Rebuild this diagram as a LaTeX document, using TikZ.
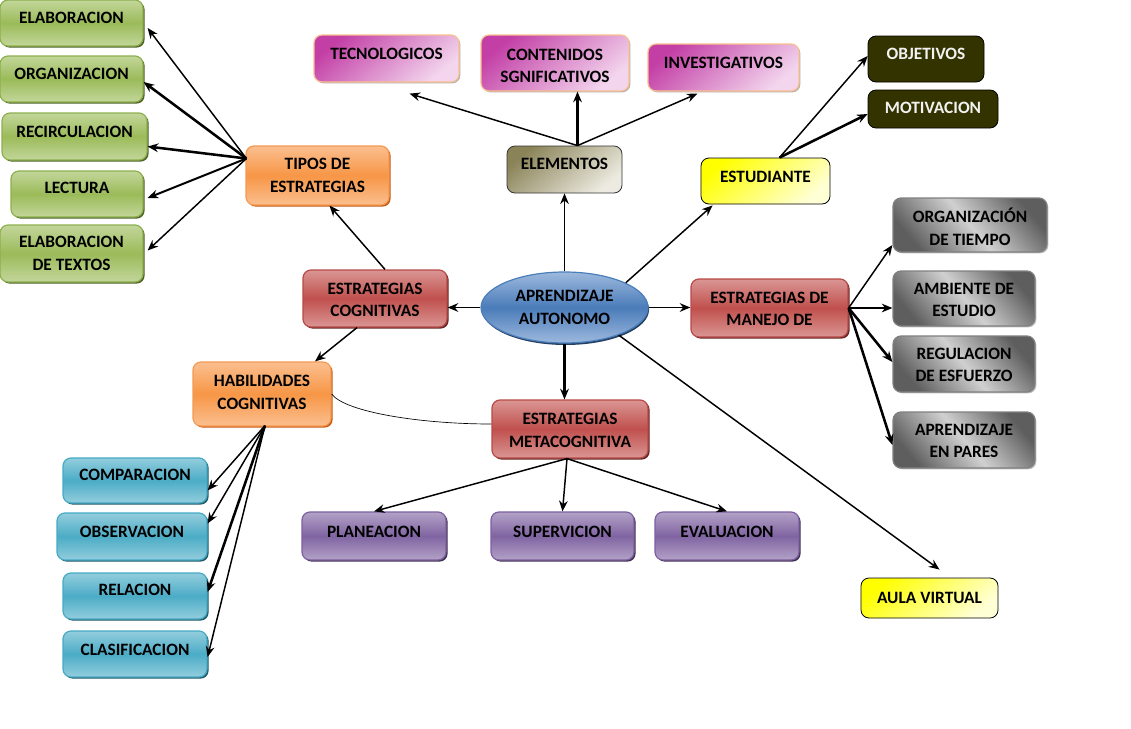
\documentclass[tikz,border=0pt]{standalone}
\usepackage{fontspec}
\setmainfont{Carlito}
\usetikzlibrary{arrows.meta,shapes.geometric,fit,calc,shadows}
\definecolor{grnM}{HTML}{9BBB59}\definecolor{grnL}{HTML}{C3D69B}\definecolor{grnB}{HTML}{8DB04E}\definecolor{grnS}{HTML}{4F6228}
\definecolor{orM}{HTML}{F79646}\definecolor{orL}{HTML}{FBBF8F}\definecolor{orB}{HTML}{F59A52}\definecolor{orS}{HTML}{C55A11}
\definecolor{rdM}{HTML}{C0504D}\definecolor{rdL}{HTML}{DA9694}\definecolor{rdB}{HTML}{B84A47}\definecolor{rdS}{HTML}{632523}
\definecolor{blM}{HTML}{4A7CBA}\definecolor{blL}{HTML}{9DB9DD}\definecolor{blB}{HTML}{4A7EBB}\definecolor{blS}{HTML}{254061}
\definecolor{cyM}{HTML}{4BACC6}\definecolor{cyL}{HTML}{93CDDD}\definecolor{cyB}{HTML}{46AAC5}\definecolor{cyS}{HTML}{215968}
\definecolor{puM}{HTML}{8064A2}\definecolor{puL}{HTML}{B3A2C7}\definecolor{puB}{HTML}{7D60A0}\definecolor{puS}{HTML}{3F3151}
\definecolor{pkD}{HTML}{C33FA6}\definecolor{pkL}{HTML}{F3D6EE}\definecolor{pkB}{HTML}{FAC090}
\definecolor{olD}{HTML}{8A8358}\definecolor{olL}{HTML}{EDEBE1}
\definecolor{yeD}{HTML}{FFFF00}\definecolor{yeL}{HTML}{FFFFD6}
\definecolor{dkO}{HTML}{333300}
\definecolor{gyD}{HTML}{5E5E5E}\definecolor{gyL}{HTML}{D0D0D0}\definecolor{gyB}{HTML}{808080}
\tikzset{
  x=0.75pt, y=-0.75pt,
  base/.style={rectangle, rounded corners=6pt, inner sep=0pt, line width=0.9pt},
  greenbox/.style={base, draw=grnB, top color=grnL, bottom color=grnL, middle color=grnM,
     drop shadow={shadow xshift=1.2pt, shadow yshift=-1.2pt, fill=grnS, opacity=1}},
  orangebox/.style={base, draw=orB, top color=orL, bottom color=orL, middle color=orM,
     drop shadow={shadow xshift=1.2pt, shadow yshift=-1.2pt, fill=orS, opacity=1}},
  redbox/.style={base, draw=rdB, top color=rdL, bottom color=rdL, middle color=rdM,
     drop shadow={shadow xshift=1.2pt, shadow yshift=-1.2pt, fill=rdS, opacity=1}},
  cyanbox/.style={base, draw=cyB, top color=cyL, bottom color=cyL, middle color=cyM,
     drop shadow={shadow xshift=1.2pt, shadow yshift=-1.2pt, fill=cyS, opacity=1}},
  purplebox/.style={base, draw=puB, top color=puL, bottom color=puL, middle color=puM,
     drop shadow={shadow xshift=1.2pt, shadow yshift=-1.2pt, fill=puS, opacity=1}},
  pinkbox/.style={base, draw=pkB, top color=pkD, bottom color=pkL, shading angle=40,
     drop shadow={shadow xshift=1pt, shadow yshift=-1pt, fill=gray!60, opacity=1}},
  olivebox/.style={base, draw=black!80, line width=0.6pt, top color=olD, bottom color=olL, shading angle=40},
  yellowbox/.style={base, draw=black, line width=0.6pt, top color=yeD, bottom color=yeL, shading angle=40},
  darkbox/.style={base, draw=black, line width=0.6pt, fill=dkO},
  graybox/.style={base, draw=gyB, top color=gyD, bottom color=gyD, middle color=gyL, shading angle=-50,
     drop shadow={shadow xshift=1pt, shadow yshift=-1pt, fill=gray!50, opacity=1}},
  ellbox/.style={ellipse, inner sep=0pt, draw=blB, line width=0.9pt, top color=blL, bottom color=blL, middle color=blM,
     minimum width=125.25pt, minimum height=53.25pt,
     drop shadow={shadow xshift=0.8pt, shadow yshift=-1.5pt, fill=blS, opacity=1}},
  txt/.style={font=\bfseries\fontsize{13}{17}\selectfont, align=center, inner sep=0pt, text=black},
  wtxt/.style={txt, text=white!95!black},
  arr/.style={-{Stealth[length=8pt,width=6.5pt]}, line width=1.1pt, black},
  tarr/.style={arr, line width=1.9pt},
  thin/.style={line width=0.5pt, black}
}
\newcommand\bx[9][txt]{%
  \node[#3, fit={(#4,#5)(#6,#7)}] (#2) {};
  \node[#1] (#2t) at ($(#2.center)+(0,#8)$) {#9};}
\begin{document}
\begin{tikzpicture}
\useasboundingbox (0,0) rectangle (1131,728);
\fill[white] (0,0) rectangle (1131,728);
% left green column
\bx{elab}{greenbox}{0}{0}{143}{46}{-5}{ELABORACION}
\bx{org}{greenbox}{0}{56}{143}{102}{-5.5}{ORGANIZACION}
\bx{recirc}{greenbox}{2}{113}{147}{160}{-5}{RECIRCULACION}
\bx{lect}{greenbox}{11}{171}{143}{217}{-6}{LECTURA}
\bx{elabtx}{greenbox}{0}{225}{143}{282}{0}{ELABORACION\\DE TEXTOS}
\bx{tipos}{orangebox}{246}{146}{389}{205}{0}{TIPOS DE\\ESTRATEGIAS}
% top
\bx{tecno}{pinkbox}{314}{35}{459}{82}{-5}{TECNOLOGICOS}
\bx{cont}{pinkbox}{481}{35}{629}{91}{3}{CONTENIDOS\\SGNIFICATIVOS}
\bx{inv}{pinkbox}{648}{44}{799}{91}{-5}{INVESTIGATIVOS}
\bx{elem}{olivebox}{507}{146}{622}{193}{-6}{ELEMENTOS}
\bx{estud}{yellowbox}{701}{158}{830}{204}{-4.5}{ESTUDIANTE}
\bx[wtxt]{obj}{darkbox}{868}{36}{984}{82}{-5.5}{OBJETIVOS}
\bx[wtxt]{mot}{darkbox}{868}{90}{998}{128}{-1.5}{MOTIVACION}
% right gray
\bx{orgt}{graybox}{893}{198}{1047}{252}{1.5}{ORGANIZACIÓN\\DE TIEMPO}
\bx{amb}{graybox}{893}{271}{1035}{326}{1.5}{AMBIENTE DE\\ESTUDIO}
\bx{reg}{graybox}{893}{336}{1035}{392}{1}{REGULACION\\DE ESFUERZO}
\bx{apr}{graybox}{893}{412}{1035}{468}{1}{APRENDIZAJE\\EN PARES}
\bx{man}{redbox}{691}{279}{848}{337}{1}{ESTRATEGIAS DE\\MANEJO DE}
% center
\node[ellbox] (ell) at (564.5,307.5) {};
\node[txt] (ellt) at (ell.center) {APRENDIZAJE\\AUTONOMO};
\bx{ec}{redbox}{303}{270}{447}{327}{1.5}{ESTRATEGIAS\\COGNITIVAS}
\bx{hc}{orangebox}{193}{362}{331}{426}{-1.5}{HABILIDADES\\COGNITIVAS}
\bx{meta}{redbox}{492}{400}{648}{458}{1.5}{ESTRATEGIAS\\METACOGNITIVA}
% bottom left cyan
\bx{comp}{cyanbox}{63}{458}{207}{503}{-5.5}{COMPARACION}
\bx{obs}{cyanbox}{57}{513}{207}{560}{-4.5}{OBSERVACION}
\bx{rel}{cyanbox}{63}{573}{207}{619}{-6}{RELACION}
\bx{clas}{cyanbox}{63}{631}{207}{677}{-4.5}{CLASIFICACION}
% bottom purple
\bx{plan}{purplebox}{302}{512}{446}{560}{-4}{PLANEACION}
\bx{sup}{purplebox}{491}{512}{634}{560}{-4}{SUPERVICION}
\bx{eval}{purplebox}{655}{512}{799}{560}{-4}{EVALUACION}
\bx{aula}{yellowbox}{861}{578}{998}{618}{0}{AULA VIRTUAL}
% connector start points
\coordinate (tiposL) at ($(tipos.west)+(1,-17)$);
\coordinate (elemT) at ($(elem.north)+(13,0)$);
\coordinate (estT) at ($(estud.north)+(14,0)$);
\coordinate (hcB) at ($(hc.south)+(3,-1)$);
\coordinate (metaB) at ($(meta.south)+(-3,0)$);
% tipos
\draw[arr] (tiposL) -- ($(elab.east)+(4,5)$);
\draw[tarr] (tiposL) -- ($(org.east)+(0,3)$);
\draw[tarr] (tiposL) -- ($(recirc.east)+(0,10)$);
\draw[arr, line width=1.5pt] (tiposL) -- ($(lect.east)+(4,4)$);
\draw[arr] (tiposL) -- ($(elabtx.east)+(4,-3)$);
% center
\draw[arr] ($(ec.north)+(10,0)$) -- ($(tipos.south)+(12,0)$);
\draw[arr] (ell.west) -- (ell.west -| ec.east);
\draw[arr] ($(ec.south)+(-18,0)$) -- ($(hc.north)+(53,0)$);
\draw[tarr] (ell.south) -- (ell.south |- meta.north);
\draw[thin] (hc.east) .. controls (345,412) and (420,424) .. ($(meta.west)+(0,-5)$);
\draw[arr] (ell.north) -- (ell.north |- elem.south);
\draw[arr] (elemT) -- ($(tecno.south)+(23,11)$);
\draw[tarr] (elemT) -- (elemT |- cont.south);
\draw[arr] (elemT) -- ($(inv.south)+(-26,2)$);
\draw[arr] (ell.22) -- ($(estud.south west)+(12,1)$);
\draw[arr] (estT) -- ($(obj.west)+(0,-3)$);
\draw[tarr] (estT) -- ($(mot.west)+(0,5)$);
\draw[arr] (ell.east) -- (ell.east -| man.west);
\draw[arr] (man.east) -- ($(orgt.west)+(0,20)$);
\draw[arr] (man.east) -- (man.east -| amb.west);
\draw[tarr] (man.east) -- ($(reg.west)+(0,-2)$);
\draw[tarr] (man.east) -- ($(apr.west)+(0,5)$);
\draw[arr] (ell.-27) -- ($(aula.north)+(10,-8)$);
% meta
\draw[arr] (metaB) -- (plan.north);
\draw[arr] (metaB) -- (sup.north);
\draw[arr] (metaB) -- (eval.north);
% habilidades
\draw[arr] (hcB) -- ($(comp.east)+(0,10)$);
\draw[arr] (hcB) -- ($(obs.east)+(0,-13)$);
\draw[tarr] (hcB) -- ($(rel.east)+(0,-4)$);
\draw[arr] (hcB) -- ($(clas.east)+(0,3)$);
\end{tikzpicture}
\end{document}
